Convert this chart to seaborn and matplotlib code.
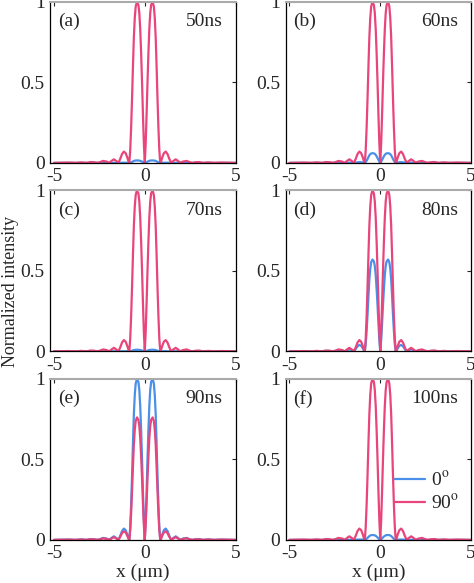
import numpy as np
import pandas as pd
import matplotlib
matplotlib.use("Agg")
import matplotlib.pyplot as plt
import seaborn as sns

sns.set_style("white")
plt.rcParams['font.family'] = ['Liberation Serif', 'DejaVu Serif']
plt.rcParams['mathtext.fontset'] = 'stix'

# half profile (x >= 0), normalized to peak 1
half_x = [0, 0.05, 0.1, 0.15, 0.2, 0.25, 0.3, 0.35, 0.43, 0.5, 0.55, 0.6, 0.65, 0.7, 0.75, 0.8, 0.85,
          0.9, 0.95, 1.05, 1.15, 1.25, 1.35, 1.45, 1.55, 1.7, 1.85, 1.95, 2.1, 2.3, 2.45, 2.6, 2.8,
          3.0, 3.2, 3.5, 3.8, 4.2, 5.0]
half_y = [0, 0.12, 0.3, 0.5, 0.68, 0.83, 0.93, 0.98, 1.0, 0.97, 0.9, 0.78, 0.6, 0.4, 0.22, 0.08, 0.0,
          0.01, 0.03, 0.06, 0.07, 0.055, 0.025, 0.0, 0.01, 0.022, 0.01, 0.0, 0.008, 0.012, 0.005, 0.0, 0.004,
          0.005, 0.0, 0.003, 0.0, 0.002, 0.0]

panels = ["(a)", "(b)", "(c)", "(d)", "(e)", "(f)"]
times = ["50ns", "60ns", "70ns", "80ns", "90ns", "100ns"]
amp_0deg = [0.015, 0.06, 0.01, 0.57, 1.0, 0.03]
amp_90deg = [1.0, 1.0, 1.0, 1.0, 0.76, 1.0]

x = np.array([-v for v in half_x[::-1]] + half_x[1:])
prof = np.array(half_y[::-1] + half_y[1:])

fig = plt.figure(figsize=(4.74, 5.83), dpi=100)
gs = fig.add_gridspec(3, 2, left=0.106, right=0.994, top=0.997, bottom=0.074, wspace=0.27, hspace=0.17)
blue = "#4a8fe8"
red = "#e8457a"
for i in range(6):
    ax = fig.add_subplot(gs[i // 2, i % 2])
    df = pd.DataFrame({"x": np.concatenate([x, x]),
                       "y": np.concatenate([prof * amp_0deg[i], prof * amp_90deg[i]]),
                       "s": ["0$^\\mathrm{o}$"] * len(x) + ["90$^\\mathrm{o}$"] * len(x)})
    sns.lineplot(data=df, x="x", y="y", hue="s", palette=[blue, red], ax=ax, lw=1.6,
                 legend=(i == 5), estimator=None, sort=False)
    ax.set_xlim(-5.2, 5)
    ax.set_ylim(0, 1)
    ax.set_xticks([-5, 0, 5]); ax.set_xticklabels(["-5", "0", "5"])
    ax.set_yticks([0, 0.5, 1]); ax.set_yticklabels(["0", "0.5", "1"])
    ax.tick_params(direction="in", length=3, labelsize=14, top=True, right=True, pad=4)
    for sp in ax.spines.values():
        sp.set_color("black"); sp.set_linewidth(0.9)
    ax.spines["top"].set_color("#aaaaaa"); ax.spines["top"].set_linewidth(1.5)
    ax.set_xlabel("x (μm)" if i >= 4 else "", fontsize=14, labelpad=1)
    ax.set_ylabel("")
    ax.text(0.04, 0.93, panels[i], transform=ax.transAxes, fontsize=14, va="top")
    ax.text(0.93, 0.93, times[i], transform=ax.transAxes, fontsize=14, va="top", ha="right")
    if i == 5:
        ax.legend(loc="center right", bbox_to_anchor=(1.0, 0.3), frameon=False, fontsize=14,
                  handlelength=1.6, handletextpad=0.3, labelspacing=0.2, borderaxespad=0.2)
fig.text(0.005, 0.5, "Normalized intensity", rotation=90, va="center", ha="left", fontsize=13)
fig.savefig("out.png", dpi=100)
